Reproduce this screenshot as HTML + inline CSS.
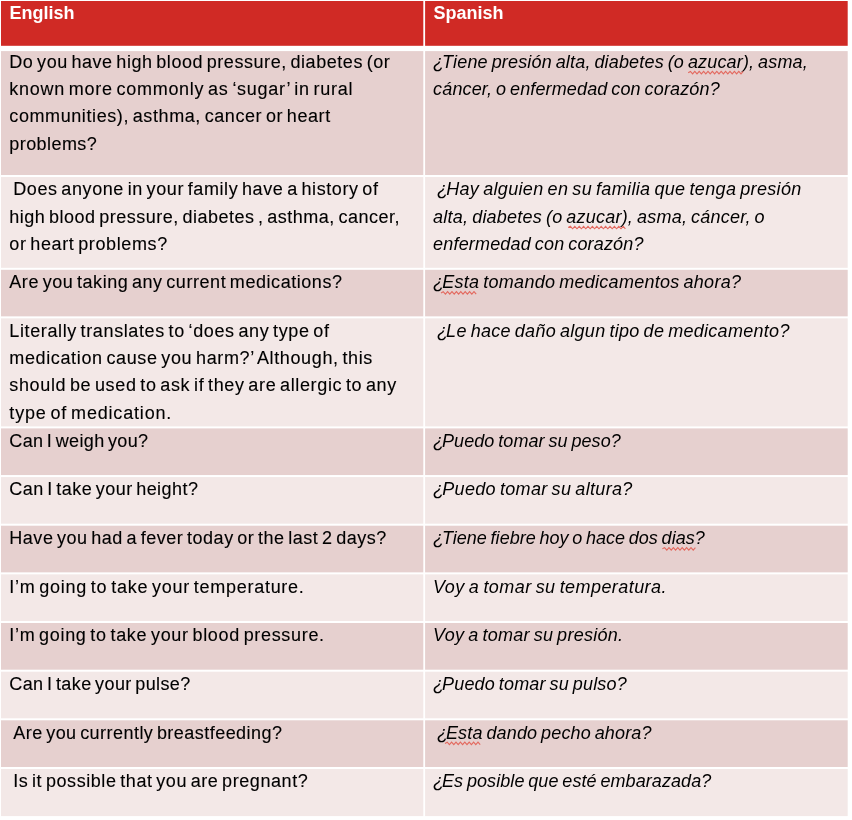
<!DOCTYPE html>
<html lang="en"><head><meta charset="utf-8"><title>English / Spanish medical phrases</title>
<style>html,body{margin:0;padding:0;background:#fff;overflow:hidden}svg{display:block}text{font-family:"Liberation Sans",sans-serif;font-size:18px;fill:#000}.en{stroke:#000;stroke-width:0.12px;word-spacing:-1.9px}.es{font-style:italic;word-spacing:-1.3px}.h{font-weight:bold;fill:#fff}.sq{fill:none;stroke:#E3695F;stroke-width:1.1}</style></head><body>
<svg width="852" height="820" viewBox="0 0 852 820">
<rect x="0" y="0" width="852" height="820" fill="#fff"/>
<rect x="1.00" y="1.00" width="422.30" height="44.80" fill="#D02A25"/>
<rect x="425.10" y="1.00" width="422.60" height="44.80" fill="#D02A25"/>
<rect x="1.00" y="51.10" width="422.30" height="123.90" fill="#E6D0CF"/>
<rect x="425.10" y="51.10" width="422.60" height="123.90" fill="#E6D0CF"/>
<rect x="1.00" y="177.00" width="422.30" height="90.80" fill="#F3E8E7"/>
<rect x="425.10" y="177.00" width="422.60" height="90.80" fill="#F3E8E7"/>
<rect x="1.00" y="269.80" width="422.30" height="46.55" fill="#E6D0CF"/>
<rect x="425.10" y="269.80" width="422.60" height="46.55" fill="#E6D0CF"/>
<rect x="1.00" y="318.35" width="422.30" height="108.05" fill="#F3E8E7"/>
<rect x="425.10" y="318.35" width="422.60" height="108.05" fill="#F3E8E7"/>
<rect x="1.00" y="428.40" width="422.30" height="46.65" fill="#E6D0CF"/>
<rect x="425.10" y="428.40" width="422.60" height="46.65" fill="#E6D0CF"/>
<rect x="1.00" y="477.05" width="422.30" height="46.65" fill="#F3E8E7"/>
<rect x="425.10" y="477.05" width="422.60" height="46.65" fill="#F3E8E7"/>
<rect x="1.00" y="525.70" width="422.30" height="46.65" fill="#E6D0CF"/>
<rect x="425.10" y="525.70" width="422.60" height="46.65" fill="#E6D0CF"/>
<rect x="1.00" y="574.35" width="422.30" height="46.65" fill="#F3E8E7"/>
<rect x="425.10" y="574.35" width="422.60" height="46.65" fill="#F3E8E7"/>
<rect x="1.00" y="623.00" width="422.30" height="46.70" fill="#E6D0CF"/>
<rect x="425.10" y="623.00" width="422.60" height="46.70" fill="#E6D0CF"/>
<rect x="1.00" y="671.70" width="422.30" height="46.60" fill="#F3E8E7"/>
<rect x="425.10" y="671.70" width="422.60" height="46.60" fill="#F3E8E7"/>
<rect x="1.00" y="720.30" width="422.30" height="46.70" fill="#E6D0CF"/>
<rect x="425.10" y="720.30" width="422.60" height="46.70" fill="#E6D0CF"/>
<rect x="1.00" y="769.00" width="422.30" height="47.10" fill="#F3E8E7"/>
<rect x="425.10" y="769.00" width="422.60" height="47.10" fill="#F3E8E7"/>
<text class="h" id="h0" x="9.50" y="18.80" textLength="64.90" lengthAdjust="spacing">English</text>
<text class="h" id="h1" x="433.40" y="18.80" textLength="70.10" lengthAdjust="spacing">Spanish</text>
<text class="en" id="t0_0_0" x="9.30" y="67.75" textLength="380.45" lengthAdjust="spacing">Do you have high blood pressure, diabetes (or</text>
<text class="en" id="t0_0_1" x="9.30" y="95.12" textLength="343.20" lengthAdjust="spacing">known more commonly as ‘sugar’ in rural</text>
<text class="en" id="t0_0_2" x="9.30" y="122.49" textLength="320.90" lengthAdjust="spacing">communities), asthma, cancer or heart</text>
<text class="en" id="t0_0_3" x="9.30" y="149.86" textLength="87.50" lengthAdjust="spacing">problems?</text>
<text class="en" id="t0_1_0" x="13.20" y="195.25" textLength="364.80" lengthAdjust="spacing">Does anyone in your family have a history of</text>
<text class="en" id="t0_1_1" x="9.30" y="222.62" textLength="390.25" lengthAdjust="spacing">high blood pressure, diabetes , asthma, cancer,</text>
<text class="en" id="t0_1_2" x="9.30" y="249.99" textLength="157.90" lengthAdjust="spacing">or heart problems?</text>
<text class="en" id="t0_2_0" x="9.30" y="288.05" textLength="332.70" lengthAdjust="spacing">Are you taking any current medications?</text>
<text class="en" id="t0_3_0" x="9.30" y="336.60" textLength="319.60" lengthAdjust="spacing">Literally translates to ‘does any type of</text>
<text class="en" id="t0_3_1" x="9.30" y="363.97" textLength="363.05" lengthAdjust="spacing">medication cause you harm?’ Although, this</text>
<text class="en" id="t0_3_2" x="9.30" y="391.34" textLength="386.95" lengthAdjust="spacing">should be used to ask if they are allergic to any</text>
<text class="en" id="t0_3_3" x="9.30" y="418.71" textLength="162.00" lengthAdjust="spacing">type of medication.</text>
<text class="en" id="t0_4_0" x="9.30" y="446.65" textLength="138.80" lengthAdjust="spacing">Can I weigh you?</text>
<text class="en" id="t0_5_0" x="9.30" y="495.30" textLength="188.70" lengthAdjust="spacing">Can I take your height?</text>
<text class="en" id="t0_6_0" x="9.30" y="543.95" textLength="377.00" lengthAdjust="spacing">Have you had a fever today or the last 2 days?</text>
<text class="en" id="t0_7_0" x="9.30" y="592.60" textLength="294.55" lengthAdjust="spacing">I’m going to take your temperature.</text>
<text class="en" id="t0_8_0" x="9.30" y="641.25" textLength="314.80" lengthAdjust="spacing">I’m going to take your blood pressure.</text>
<text class="en" id="t0_9_0" x="9.30" y="689.95" textLength="181.00" lengthAdjust="spacing">Can I take your pulse?</text>
<text class="en" id="t0_10_0" x="13.20" y="738.55" textLength="268.80" lengthAdjust="spacing">Are you currently breastfeeding?</text>
<text class="en" id="t0_11_0" x="13.20" y="787.25" textLength="294.60" lengthAdjust="spacing">Is it possible that you are pregnant?</text>
<text class="es" id="t1_0_0" x="433.10" y="67.75" textLength="374.70" lengthAdjust="spacing">¿<tspan dx="-2.2">Tiene presión alta, diabetes (o azucar), asma,</tspan></text>
<text class="es" id="t1_0_1" x="433.10" y="95.12" textLength="286.55" lengthAdjust="spacing">cáncer, o enfermedad con corazón?</text>
<text class="es" id="t1_1_0" x="437.00" y="195.25" textLength="364.30" lengthAdjust="spacing">¿<tspan dx="-2.2">Hay alguien en su familia que tenga presión</tspan></text>
<text class="es" id="t1_1_1" x="433.10" y="222.62" textLength="331.50" lengthAdjust="spacing">alta, diabetes (o azucar), asma, cáncer, o</text>
<text class="es" id="t1_1_2" x="433.10" y="249.99" textLength="210.40" lengthAdjust="spacing">enfermedad con corazón?</text>
<text class="es" id="t1_2_0" x="433.10" y="288.05" textLength="307.85" lengthAdjust="spacing">¿<tspan dx="-2.2">Esta tomando medicamentos ahora?</tspan></text>
<text class="es" id="t1_3_0" x="437.00" y="336.60" textLength="352.40" lengthAdjust="spacing">¿<tspan dx="-2.2">Le hace daño algun tipo de medicamento?</tspan></text>
<text class="es" id="t1_4_0" x="433.10" y="446.65" textLength="187.70" lengthAdjust="spacing">¿<tspan dx="-2.2">Puedo tomar su peso?</tspan></text>
<text class="es" id="t1_5_0" x="433.10" y="495.30" textLength="199.20" lengthAdjust="spacing">¿<tspan dx="-2.2">Puedo tomar su altura?</tspan></text>
<text class="es" id="t1_6_0" x="433.10" y="543.95" textLength="271.60" lengthAdjust="spacing">¿<tspan dx="-2.2">Tiene fiebre hoy o hace dos dias?</tspan></text>
<text class="es" id="t1_7_0" x="433.10" y="592.60" textLength="233.35" lengthAdjust="spacing">Voy a tomar su temperatura.</text>
<text class="es" id="t1_8_0" x="433.10" y="641.25" textLength="189.85" lengthAdjust="spacing">Voy a tomar su presión.</text>
<text class="es" id="t1_9_0" x="433.10" y="689.95" textLength="193.60" lengthAdjust="spacing">¿<tspan dx="-2.2">Puedo tomar su pulso?</tspan></text>
<text class="es" id="t1_10_0" x="437.00" y="738.55" textLength="214.50" lengthAdjust="spacing">¿<tspan dx="-2.2">Esta dando pecho ahora?</tspan></text>
<text class="es" id="t1_11_0" x="433.10" y="787.25" textLength="278.20" lengthAdjust="spacing">¿<tspan dx="-2.2">Es posible que esté embarazada?</tspan></text>
<path class="sq" d="M688.20 72.65L690.40 71.40L692.60 73.90L694.80 71.40L697.00 73.90L699.20 71.40L701.40 73.90L703.60 71.40L705.80 73.90L708.00 71.40L710.20 73.90L712.40 71.40L714.60 73.90L716.80 71.40L719.00 73.90L721.20 71.40L723.40 73.90L725.60 71.40L727.80 73.90L730.00 71.40L732.20 73.90L734.40 71.40L736.60 73.90L738.80 71.40L741.00 73.90L743.20 71.40"/>
<path class="sq" d="M568.20 227.52L570.40 226.27L572.60 228.77L574.80 226.27L577.00 228.77L579.20 226.27L581.40 228.77L583.60 226.27L585.80 228.77L588.00 226.27L590.20 228.77L592.40 226.27L594.60 228.77L596.80 226.27L599.00 228.77L601.20 226.27L603.40 228.77L605.60 226.27L607.80 228.77L610.00 226.27L612.20 228.77L614.40 226.27L616.60 228.77L618.80 226.27L621.00 228.77L623.20 226.27L625.40 228.77"/>
<path class="sq" d="M441.00 292.95L443.20 291.70L445.40 294.20L447.60 291.70L449.80 294.20L452.00 291.70L454.20 294.20L456.40 291.70L458.60 294.20L460.80 291.70L463.00 294.20L465.20 291.70L467.40 294.20L469.60 291.70L471.80 294.20L474.00 291.70L476.20 294.20"/>
<path class="sq" d="M662.40 548.85L664.60 547.60L666.80 550.10L669.00 547.60L671.20 550.10L673.40 547.60L675.60 550.10L677.80 547.60L680.00 550.10L682.20 547.60L684.40 550.10L686.60 547.60L688.80 550.10L691.00 547.60L693.20 550.10L695.40 547.60"/>
<path class="sq" d="M445.00 743.45L447.20 742.20L449.40 744.70L451.60 742.20L453.80 744.70L456.00 742.20L458.20 744.70L460.40 742.20L462.60 744.70L464.80 742.20L467.00 744.70L469.20 742.20L471.40 744.70L473.60 742.20L475.80 744.70L478.00 742.20L480.20 744.70"/>
</svg></body></html>
